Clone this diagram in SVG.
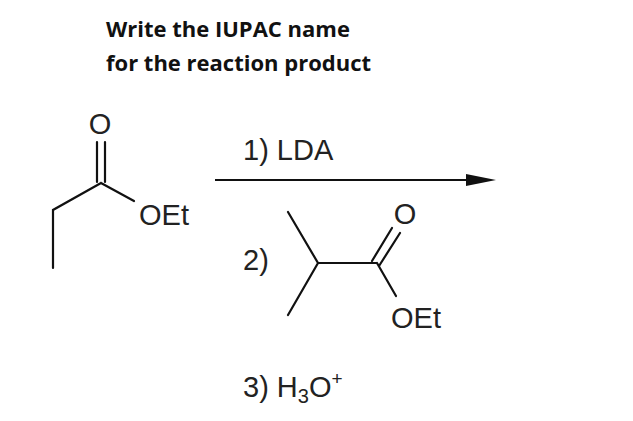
<svg xmlns="http://www.w3.org/2000/svg" width="633" height="421" viewBox="0 0 633 421">
<style>
.t{font-family:"Liberation Sans",Arial,sans-serif;font-size:29px;fill:#222}
.h{font-family:"Open Sans","Liberation Sans",sans-serif;font-weight:bold;font-size:22px;fill:#111}
.b{stroke:#111;stroke-width:2.2;fill:none;stroke-linecap:round}
</style>
<rect width="633" height="421" fill="#fff"/>
<g id="title"><text class="h" x="106" y="37">Write the IUPAC name</text><text class="h" x="106" y="71">for the reaction product</text></g>
<g id="reactant">
<text class="t" x="100" y="134" text-anchor="middle">O</text>
<path class="b" d="M97,142 V182 M105,142 V182 M101,183 L53,210 V268 M101,183 L134,201"/>
<text class="t" x="139" y="225">OEt</text>
</g>
<g id="reagent2">
<text class="t" x="243" y="270">2)</text>
<path class="b" d="M288,212 L318,263 L288,315 M318,263 H377 M372,261 L392,228 M379,266 L400,233 M377,263 L396,296"/>
<text class="t" x="405" y="224" text-anchor="middle">O</text>
<text class="t" x="391" y="328">OEt</text>
</g>
<g id="labels">
<text class="t" x="243" y="160">1) LDA</text>
<text class="t" x="243" y="397">3) H<tspan font-size="20" dy="6">3</tspan><tspan dy="-6">O</tspan><tspan font-size="19" dy="-12">+</tspan></text>
</g>
<g id="connectors"><path d="M215,180 H470" stroke="#111" stroke-width="2"/><path d="M466,174 L496,180 L466,186 Z" fill="#111"/></g>
</svg>
